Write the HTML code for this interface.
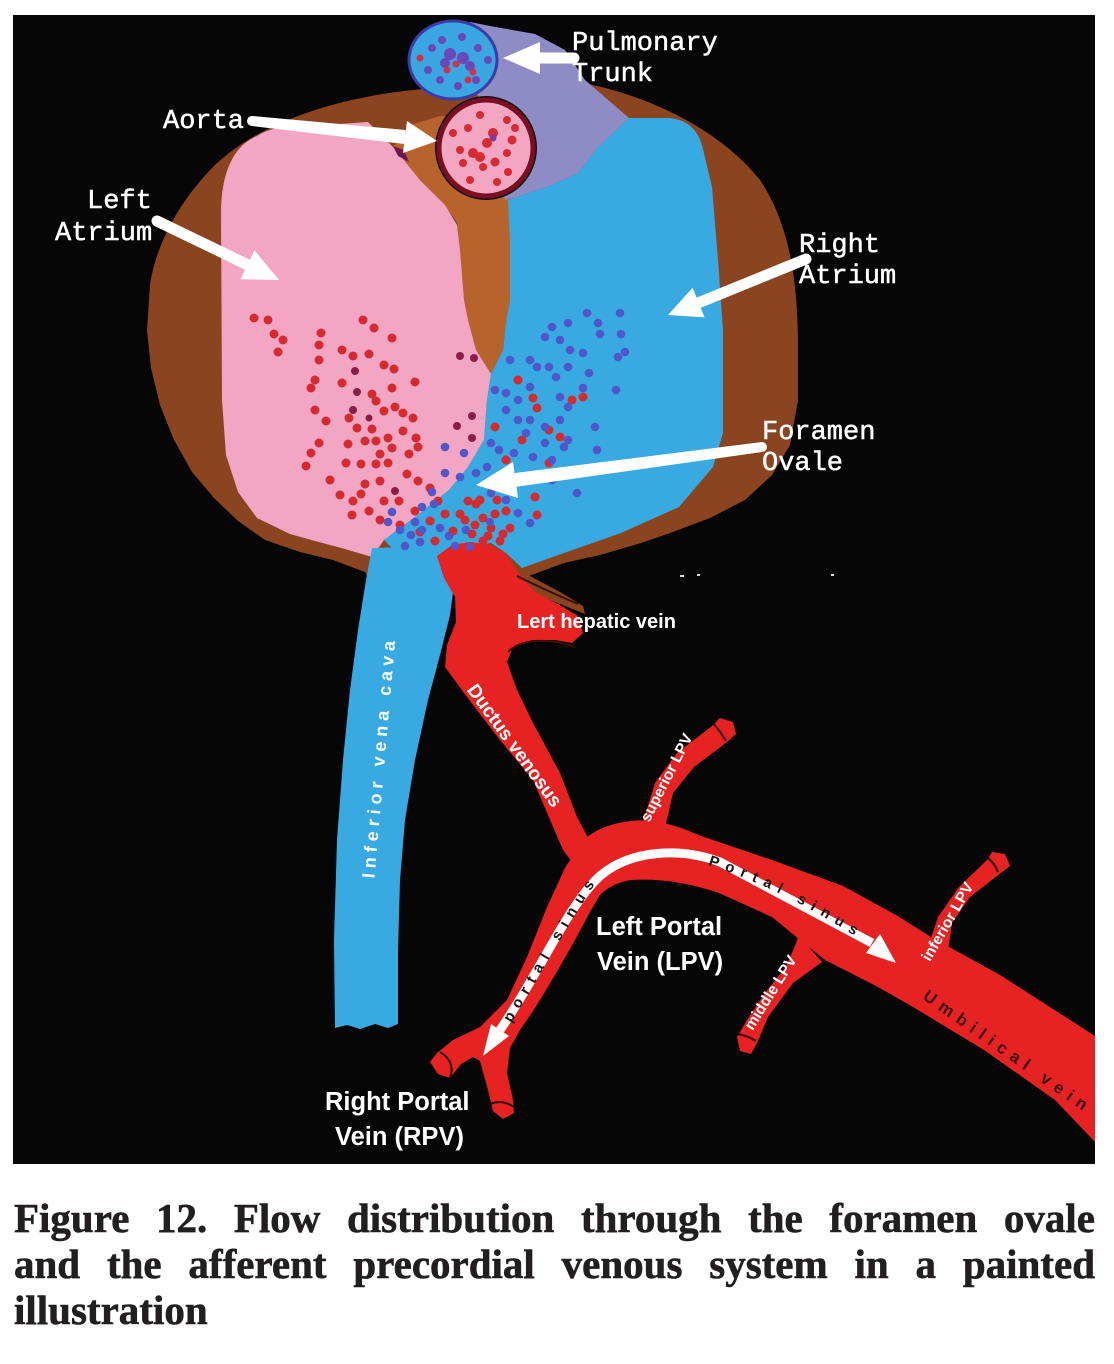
<!DOCTYPE html>
<html><head><meta charset="utf-8">
<style>
html,body{margin:0;padding:0;background:#fff;}
body{width:1114px;height:1364px;position:relative;overflow:hidden;}
svg{position:absolute;left:0;top:0;}
.cap{position:absolute;left:14px;width:1081px;font-family:"Liberation Serif",serif;font-weight:bold;font-size:41px;line-height:46px;color:#231f20;white-space:nowrap;-webkit-text-stroke:0.6px #231f20;}
.j{text-align:justify;text-align-last:justify;white-space:normal;}
</style></head><body>
<svg width="1114" height="1364" viewBox="0 0 1114 1364">
<defs>
<path id="pr" d="M708,865 C760,881 815,909 870,946"/>
<path id="pl" d="M511,1023 C540,976 568,923 603,872"/>
</defs>
<rect x="13" y="15" width="1082" height="1149" fill="#060606"/>

<!-- heart outer -->
<path fill="#8b4420" d="M372,586 L365,572 L333,560 L300,552 L265,540 L238,521 L214,498 L192,472 L174,440 L160,405 L151,368 L147,330 L150,285 C155,250 175,205 215,165 C258,124 330,100 404,91 L470,84 L578,82 C650,95 720,130 760,180 C790,225 797,280 798,340 L798,400 L790,445 L772,475 L745,500 L710,518 L670,533 L641,543 L600,555 L564,563 L526,577 L510,586 Z"/>
<!-- septum -->
<path fill="#b8632c" d="M393,147 L410,125 L440,116 L520,120 L530,150 L516,196 L510,240 L510,300 L506,322 L503,350 L491,374 L476,350 L468,320 L464,300 L460,250 L457,222 L440,200 L414,173 Z"/>
<!-- lavender trunk -->
<path fill="#8f8cc5" d="M470,22 L490,26 L535,34 L565,50 L585,80 L629,118 L598,147 L578,173 L547,187 L516,197 L505,200 L495,160 L480,100 L460,60 Z"/>
<!-- left atrium -->
<path fill="#f3a6c3" d="M221,214 C221,170 235,145 257,136 C265,131 272,129 279,128 L368,122 L393,147 L420,180 L445,205 L457,225 L460,250 L464,300 L468,320 L476,350 L491,374 L487,400 L484,440 L468,467 L449,490 L415,517 L384,540 L372,557 L345,549 L315,541 L290,534 L257,518 L238,492 L226,455 L222,400 Z"/>
<path fill="#6a1a4a" d="M393,146 L404,150 L409,162 L398,156 Z"/>
<!-- right atrium -->
<path fill="#38a9e1" d="M508,200 L516,197 L547,187 L578,173 L598,147 L629,118 L669,118 C685,119 697,128 702,145 L712,187 L718,260 L723,330 L723,433 L713,467 L679,507 L621,533 L564,553 L522,568 L506,553 L491,543 L468,547 L445,563 L420,560 L400,556 L384,540 L415,517 L449,490 L468,467 L484,440 L487,400 L491,374 L503,350 L506,322 L510,300 L510,240 Z"/>
<!-- IVC -->
<path fill="#38a9e1" d="M372,548 L440,546 L455,578 L450,615 L440,655 L428,700 L415,760 L405,820 L400,880 L398,950 L398,1024 L388,1028 L375,1024 L360,1029 L347,1025 L335,1028 L334,940 L337,840 L343,760 L350,690 L358,630 L366,580 Z"/>

<!-- brown wedge near hepatic vein -->
<path fill="#8b4420" d="M512,570 L530,576 L560,592 L583,606 L585,614 L560,604 L535,594 L518,582 Z"/>
<!-- ductus venosus + left hepatic vein -->
<path fill="#e62222" d="M437,556 L452,545 L470,542 L490,545 L506,553 L518,572 L535,592 L558,604 L578,616 L583,633 L572,643 L555,640 L532,640 L513,647 L507,662 L517,690 L533,723 L560,773 L577,817 L592,845 L596,862 L575,866 L563,850 L533,780 L500,740 L467,697 L445,667 L447,645 L456,622 L455,597 L444,578 Z"/>
<path d="M517,576 Q545,590 578,604" stroke="#3a1008" stroke-width="2" fill="none"/>
<path d="M508,652 Q520,640 545,641 Q562,642 572,646" stroke="#3a1008" stroke-width="2" fill="none"/>

<!-- portal system -->
<g fill="#e62222">
<path d="M437,1053 L453,1040 L480,1027 L507,1000 L527,957 L547,907 L565,868 L581,843 C590,833 605,824 631,821 C650,819 670,822 701,836 L772,860 L843,886 L896,915 L931,937 L1000,975 L1095,1036 L1095,1142 L1055,1100 L984,1050 L913,1007 L878,987 L825,960 L800,940 L772,917 L719,893 C690,883 660,878 631,880 C618,882 608,887 600,895 L590,912 L575,940 L555,975 L535,1008 L520,1030 L510,1048 L507,1073 L513,1100 L514,1113 L503,1119 L493,1111 L488,1090 L480,1061 L473,1057 L461,1064 L450,1078 L438,1074 L430,1062 Z"/>
<path d="M641,828 L655,783 L677,753 L712,726 L720,718 L733,722 L736,734 L727,742 L694,767 L673,793 L665,828 Z"/>
<path d="M923,962 L938,917 L959,887 L987,860 L992,852 L1005,854 L1010,866 L1002,872 L970,897 L952,923 L947,958 Z"/>
<path d="M799,936 L786,967 L765,993 L747,1020 L737,1037 L740,1051 L751,1054 L757,1043 L768,1017 L793,983 L822,962 Z"/>
</g>
<g stroke="#3a0a0a" stroke-width="2.2" fill="none">
<path d="M714,724 Q722,734 726,741"/>
<path d="M988,858 Q995,864 998,872"/>
<path d="M738,1034 Q748,1036 756,1041"/>
<path d="M440,1052 Q456,1062 450,1078"/>
<path d="M490,1104 Q502,1099 514,1107"/>
</g>

<!-- white sinus arrow -->
<path d="M500,1030 C540,972 568,905 600,876 C630,850 680,847 720,862 L872,943" stroke="#fff" stroke-width="9" fill="none"/>
<polygon fill="#fff" points="896,963 866,953 880,934"/>
<polygon fill="#fff" points="483,1056 509,1036 491,1024"/>

<!-- LA red dots -->
<g fill="#d52a2e">
<circle cx="254" cy="318" r="4.5"/><circle cx="268" cy="320" r="4.5"/><circle cx="274" cy="334" r="4.5"/><circle cx="283" cy="340" r="4.5"/><circle cx="278" cy="352" r="4.5"/>
<circle cx="321" cy="333" r="4.5"/><circle cx="319" cy="345" r="4.5"/><circle cx="319" cy="360" r="4.5"/><circle cx="342" cy="350" r="4.5"/><circle cx="353" cy="356" r="4.5"/><circle cx="363" cy="320" r="4.5"/><circle cx="374" cy="328" r="4.5"/><circle cx="392" cy="338" r="4.5"/><circle cx="369" cy="354" r="4.5"/><circle cx="384" cy="365" r="4.5"/><circle cx="394" cy="369" r="4.5"/>
<circle cx="311" cy="388" r="4.5"/><circle cx="315" cy="380" r="4.5"/><circle cx="342" cy="383" r="4.5"/><circle cx="372" cy="394" r="4.5"/><circle cx="376" cy="401" r="4.5"/><circle cx="392" cy="388" r="4.5"/><circle cx="415" cy="382" r="4.5"/>
<circle cx="403" cy="413" r="4.5"/><circle cx="413" cy="418" r="4.5"/><circle cx="395" cy="407" r="4.5"/><circle cx="384" cy="411" r="4.5"/><circle cx="349" cy="418" r="4.5"/><circle cx="326" cy="421" r="4.5"/><circle cx="315" cy="410" r="4.5"/>
<circle cx="357" cy="428" r="4.5"/><circle cx="372" cy="429" r="4.5"/><circle cx="403" cy="431" r="4.5"/><circle cx="416" cy="438" r="4.5"/><circle cx="388" cy="438" r="4.5"/><circle cx="376" cy="441" r="4.5"/><circle cx="348" cy="444" r="4.5"/><circle cx="365" cy="441" r="4.5"/><circle cx="319" cy="443" r="4.5"/><circle cx="311" cy="453" r="4.5"/>
<circle cx="380" cy="454" r="4.5"/><circle cx="392" cy="448" r="4.5"/><circle cx="409" cy="454" r="4.5"/><circle cx="418" cy="447" r="4.5"/><circle cx="346" cy="463" r="4.5"/><circle cx="361" cy="464" r="4.5"/><circle cx="376" cy="464" r="4.5"/><circle cx="388" cy="463" r="4.5"/>
<circle cx="407" cy="474" r="4.5"/><circle cx="418" cy="481" r="4.5"/><circle cx="430" cy="488" r="4.5"/><circle cx="380" cy="481" r="4.5"/><circle cx="365" cy="484" r="4.5"/><circle cx="361" cy="494" r="4.5"/><circle cx="353" cy="501" r="4.5"/><circle cx="369" cy="511" r="4.5"/><circle cx="384" cy="501" r="4.5"/><circle cx="399" cy="501" r="4.5"/><circle cx="415" cy="511" r="4.5"/>
<circle cx="438" cy="501" r="4.5"/><circle cx="445" cy="514" r="4.5"/><circle cx="430" cy="521" r="4.5"/><circle cx="453" cy="531" r="4.5"/><circle cx="472" cy="534" r="4.5"/><circle cx="483" cy="541" r="4.5"/><circle cx="460" cy="514" r="4.5"/><circle cx="468" cy="501" r="4.5"/><circle cx="476" cy="504" r="4.5"/><circle cx="483" cy="518" r="4.5"/><circle cx="495" cy="514" r="4.5"/><circle cx="506" cy="511" r="4.5"/><circle cx="491" cy="528" r="4.5"/><circle cx="503" cy="534" r="4.5"/>
<circle cx="306" cy="466" r="4.5"/><circle cx="330" cy="480" r="4.5"/><circle cx="340" cy="495" r="4.5"/><circle cx="352" cy="515" r="4.5"/><circle cx="380" cy="520" r="4.5"/><circle cx="400" cy="525" r="4.5"/><circle cx="420" cy="532" r="4.5"/><circle cx="435" cy="541" r="4.5"/>
<circle cx="518" cy="380" r="4.5"/><circle cx="533" cy="398" r="4.5"/><circle cx="537" cy="408" r="4.5"/><circle cx="572" cy="400" r="4.5"/><circle cx="583" cy="397" r="4.5"/><circle cx="495" cy="427" r="4.5"/><circle cx="522" cy="440" r="4.5"/><circle cx="549" cy="430" r="4.5"/><circle cx="560" cy="437" r="4.5"/><circle cx="506" cy="460" r="4.5"/><circle cx="549" cy="463" r="4.5"/><circle cx="535" cy="497" r="4.5"/><circle cx="537" cy="515" r="4.5"/><circle cx="497" cy="500" r="4.5"/><circle cx="480" cy="500" r="4.5"/><circle cx="465" cy="520" r="4.5"/><circle cx="475" cy="525" r="4.5"/><circle cx="488" cy="536" r="4.5"/><circle cx="500" cy="541" r="4.5"/><circle cx="510" cy="528" r="4.5"/>
</g>
<g fill="#8a1e4a">
<circle cx="355" cy="371" r="4"/><circle cx="460" cy="356" r="4"/><circle cx="474" cy="358" r="4"/><circle cx="472" cy="416" r="4"/><circle cx="457" cy="426" r="4"/><circle cx="472" cy="438" r="4"/><circle cx="353" cy="410" r="4"/><circle cx="357" cy="392" r="4"/><circle cx="395" cy="491" r="4"/><circle cx="369" cy="418" r="3.5"/>
</g>
<!-- RA blue dots -->
<g fill="#4f57c9">
<circle cx="587" cy="313" r="4.3"/><circle cx="620" cy="313" r="4.3"/><circle cx="568" cy="323" r="4.3"/><circle cx="552" cy="327" r="4.3"/><circle cx="598" cy="323" r="4.3"/><circle cx="600" cy="334" r="4.3"/><circle cx="621" cy="334" r="4.3"/><circle cx="545" cy="337" r="4.3"/><circle cx="560" cy="340" r="4.3"/><circle cx="570" cy="350" r="4.3"/><circle cx="583" cy="353" r="4.3"/><circle cx="625" cy="352" r="4.3"/>
<circle cx="510" cy="360" r="4.3"/><circle cx="530" cy="360" r="4.3"/><circle cx="537" cy="367" r="4.3"/><circle cx="549" cy="367" r="4.3"/><circle cx="568" cy="367" r="4.3"/><circle cx="589" cy="373" r="4.3"/><circle cx="556" cy="377" r="4.3"/><circle cx="618" cy="357" r="4.3"/><circle cx="616" cy="390" r="4.3"/><circle cx="495" cy="390" r="4.3"/><circle cx="506" cy="393" r="4.3"/><circle cx="518" cy="400" r="4.3"/><circle cx="530" cy="387" r="4.3"/><circle cx="560" cy="397" r="4.3"/><circle cx="568" cy="407" r="4.3"/><circle cx="583" cy="388" r="4.3"/>
<circle cx="506" cy="410" r="4.3"/><circle cx="518" cy="420" r="4.3"/><circle cx="530" cy="420" r="4.3"/><circle cx="545" cy="427" r="4.3"/><circle cx="560" cy="420" r="4.3"/><circle cx="568" cy="440" r="4.3"/><circle cx="595" cy="427" r="4.3"/><circle cx="491" cy="443" r="4.3"/><circle cx="499" cy="450" r="4.3"/><circle cx="514" cy="453" r="4.3"/><circle cx="526" cy="433" r="4.3"/><circle cx="533" cy="457" r="4.3"/><circle cx="545" cy="443" r="4.3"/><circle cx="552" cy="460" r="4.3"/><circle cx="564" cy="447" r="4.3"/><circle cx="597" cy="450" r="4.3"/>
<circle cx="464" cy="453" r="4.3"/><circle cx="445" cy="447" r="4.3"/><circle cx="476" cy="473" r="4.3"/><circle cx="487" cy="467" r="4.3"/><circle cx="460" cy="477" r="4.3"/><circle cx="445" cy="473" r="4.3"/><circle cx="432" cy="492" r="4.3"/><circle cx="434" cy="504" r="4.3"/><circle cx="422" cy="507" r="4.3"/><circle cx="392" cy="512" r="4.3"/><circle cx="388" cy="522" r="4.3"/><circle cx="415" cy="522" r="4.3"/><circle cx="411" cy="535" r="4.3"/><circle cx="422" cy="530" r="4.3"/><circle cx="440" cy="528" r="4.3"/><circle cx="449" cy="536" r="4.3"/><circle cx="466" cy="530" r="4.3"/>
<circle cx="491" cy="493" r="4.3"/><circle cx="506" cy="500" r="4.3"/><circle cx="518" cy="513" r="4.3"/><circle cx="530" cy="523" r="4.3"/><circle cx="577" cy="493" r="4.3"/><circle cx="552" cy="480" r="4.3"/><circle cx="420" cy="542" r="4.3"/><circle cx="405" cy="546" r="4.3"/><circle cx="400" cy="530" r="4.3"/><circle cx="455" cy="546" r="4.3"/><circle cx="470" cy="547" r="4"/><circle cx="490" cy="522" r="4"/>
</g>

<!-- pulmonary trunk circle -->
<ellipse cx="453" cy="60" rx="44" ry="39" fill="#3aa7e2" stroke="#3b3ca8" stroke-width="3"/>
<g fill="#6a48b8">
<circle cx="432" cy="48" r="4"/><circle cx="442" cy="40" r="4"/><circle cx="462" cy="37" r="4"/><circle cx="478" cy="48" r="4"/><circle cx="488" cy="60" r="4"/><circle cx="440" cy="80" r="4"/><circle cx="428" cy="70" r="4"/><circle cx="450" cy="54" r="6"/><circle cx="463" cy="58" r="6"/><circle cx="445" cy="63" r="5"/><circle cx="476" cy="80" r="4"/><circle cx="458" cy="86" r="4"/><circle cx="470" cy="66" r="5"/>
</g>
<g fill="#d3304a">
<circle cx="420" cy="58" r="3.5"/><circle cx="447" cy="70" r="3.5"/><circle cx="468" cy="80" r="3.5"/><circle cx="473" cy="72" r="3.5"/><circle cx="456" cy="64" r="3.5"/>
</g>
<!-- aorta circle -->
<ellipse cx="486" cy="148" rx="51" ry="52" fill="#111"/>
<ellipse cx="486" cy="148" rx="47" ry="48" fill="#f2a6c2" stroke="#7a0f22" stroke-width="5"/>
<g fill="#d82a30">
<circle cx="480" cy="115" r="4"/><circle cx="468" cy="128" r="4"/><circle cx="453" cy="133" r="4"/><circle cx="507" cy="120" r="4"/><circle cx="515" cy="128" r="4"/><circle cx="512" cy="140" r="4.5"/><circle cx="493" cy="133" r="5"/><circle cx="487" cy="143" r="5"/><circle cx="473" cy="153" r="5"/><circle cx="460" cy="150" r="4"/><circle cx="463" cy="163" r="4"/><circle cx="480" cy="157" r="5"/><circle cx="495" cy="162" r="4.5"/><circle cx="507" cy="153" r="4"/><circle cx="483" cy="167" r="4"/><circle cx="470" cy="180" r="4"/><circle cx="497" cy="182" r="4"/><circle cx="508" cy="172" r="4"/>
</g>
<circle cx="493" cy="138" r="3.5" fill="#7a3aa8"/>

<!-- white arrows -->
<g fill="#fff" stroke="#fff" stroke-linecap="round">
<line x1="574" y1="58" x2="536" y2="58" stroke-width="11"/>
<polygon stroke="none" points="503,58 540,42 540,74"/>
<polygon stroke="none" points="251.5,126 252.5,116 405.7,130 404.3,144"/>
<circle cx="252" cy="121" r="5" stroke="none"/>
<polygon stroke="none" points="437,141 403,153 407,121"/>
<line x1="157" y1="221" x2="248" y2="265" stroke-width="11"/>
<polygon stroke="none" points="279,280 240.5,279.2 254.5,250.4"/>
<line x1="806" y1="259" x2="698" y2="303" stroke-width="11"/>
<polygon stroke="none" points="668,315 704.6,317.4 692.6,287.8"/>
<polygon stroke="none" points="762,442 762,452 515,487 515,473"/>
<circle cx="762" cy="447" r="5" stroke="none"/>
<polygon stroke="none" points="476,485 518,498 513,462"/>
</g>

<!-- mono labels -->
<g font-family="'Liberation Mono', monospace" font-size="27" fill="#fff" stroke="#fff" stroke-width="0.5">
<text x="572" y="50">Pulmonary</text>
<text x="572" y="81">Trunk</text>
<text x="163" y="128">Aorta</text>
<text x="87" y="208">Left</text>
<text x="55" y="240">Atrium</text>
<text x="799" y="252">Right</text>
<text x="799" y="283">Atrium</text>
<text x="762" y="439">Foramen</text>
<text x="762" y="470">Ovale</text>
</g>

<!-- sans labels -->
<g font-family="'Liberation Sans', sans-serif" font-weight="bold" fill="#fff">
<text x="517" y="628" font-size="20">Lert hepatic vein</text>
<text x="596" y="935" font-size="25.5">Left Portal</text>
<text x="597" y="970" font-size="25.5">Vein (LPV)</text>
<text x="325" y="1110" font-size="25.5">Right Portal</text>
<text x="335" y="1145" font-size="25.5">Vein (RPV)</text>
<text transform="translate(379,757) rotate(-85)" text-anchor="middle" dominant-baseline="central" font-size="18" letter-spacing="5">Inferior vena cava</text>
<text transform="translate(514,746) rotate(54)" text-anchor="middle" dominant-baseline="central" font-size="19">Ductus venosus</text>
<text transform="translate(667,778) rotate(-63)" text-anchor="middle" dominant-baseline="central" font-size="15.5">superior LPV</text>
<text transform="translate(948,922) rotate(-60)" text-anchor="middle" dominant-baseline="central" font-size="15.5">inferior LPV</text>
<text transform="translate(771,993) rotate(-58)" text-anchor="middle" dominant-baseline="central" font-size="15.5">middle LPV</text>
</g>
<g font-family="'Liberation Sans', sans-serif" font-weight="bold" fill="#161616" font-size="15" letter-spacing="7">
<text><textPath href="#pr">Portal sinus</textPath></text>
<text><textPath href="#pl">portal sinus</textPath></text>
</g>
<text transform="translate(1008,1052) rotate(35)" text-anchor="middle" dominant-baseline="central" font-family="'Liberation Sans', sans-serif" font-weight="bold" font-size="17" letter-spacing="6.3" fill="#3b0b0b">Umbilical vein</text>

<g fill="#ddd">
<rect x="680" y="575" width="4" height="2"/><rect x="697" y="574" width="3" height="2"/><rect x="831" y="574" width="3" height="2"/>
</g>
</svg>
<div class="cap j" style="top:1195px">Figure 12. Flow distribution through the foramen ovale</div>
<div class="cap j" style="top:1241px">and the afferent precordial venous system in a painted</div>
<div class="cap" style="top:1287px">illustration</div>
</body></html>
